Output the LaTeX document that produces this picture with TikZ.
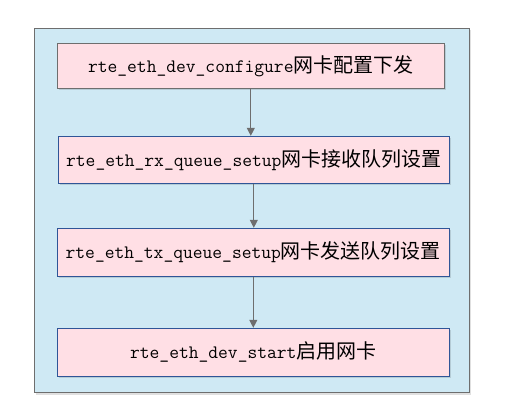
\documentclass[tikz,border=0pt]{standalone}
\usepackage{fontspec}
\newfontfamily\cjk{Noto Sans CJK SC}
\usetikzlibrary{arrows.meta,shadows}

\definecolor{panelblue}{HTML}{CFE9F4}
\definecolor{boxpink}{HTML}{FFDFE5}
\definecolor{edgeblue}{HTML}{2F5597}
\definecolor{edgegray}{HTML}{6E6E6E}

\newcommand{\callname}[2]{{\ttfamily\fontsize{19}{20}\selectfont #1}{\cjk\fontsize{20}{20}\selectfont #2}}

\tikzset{
    stepbox/.style={draw=edgeblue,fill=boxpink,line width=1pt,inner sep=0pt,
        drop shadow={shadow xshift=2pt,shadow yshift=-2pt,fill=black,opacity=0.12}},
    flow/.style={draw=edgegray,line width=1pt,-{Triangle[width=8pt,length=8pt]}}
}

\begin{document}
\begin{tikzpicture}[x=1pt,y=-1pt]
            \useasboundingbox (0,0) rectangle (510,412);
            % panel
            \draw[draw=edgegray,fill=panelblue,line width=1pt,
                drop shadow={shadow xshift=2pt,shadow yshift=-2pt,fill=black,opacity=0.12}]
                (34.3,28.3) rectangle (469.3,392.7);

            % steps
            \node[stepbox,draw=edgegray,minimum width=387pt,minimum height=45pt] (cfg) at (250.8,65.8)
                {\callname{rte\_eth\_dev\_configure}{网卡配置下发}};
            \node[stepbox,minimum width=391pt,minimum height=47pt] (rxq) at (253.8,159.8)
                {\callname{rte\_eth\_rx\_queue\_setup}{网卡接收队列设置}};
            \node[stepbox,minimum width=392pt,minimum height=48pt] (txq) at (253.3,252.3)
                {\callname{rte\_eth\_tx\_queue\_setup}{网卡发送队列设置}};
            \node[stepbox,minimum width=392pt,minimum height=48pt] (start) at (253.3,352.3)
                {\callname{rte\_eth\_dev\_start}{启用网卡}};

            % arrows
            \draw[flow] (cfg.south) -- (cfg.south |- rxq.north);
            \draw[flow] (rxq.south) -- (rxq.south |- txq.north);
            \draw[flow] (txq.south) -- (txq.south |- start.north);
        \end{tikzpicture}
\end{document}
